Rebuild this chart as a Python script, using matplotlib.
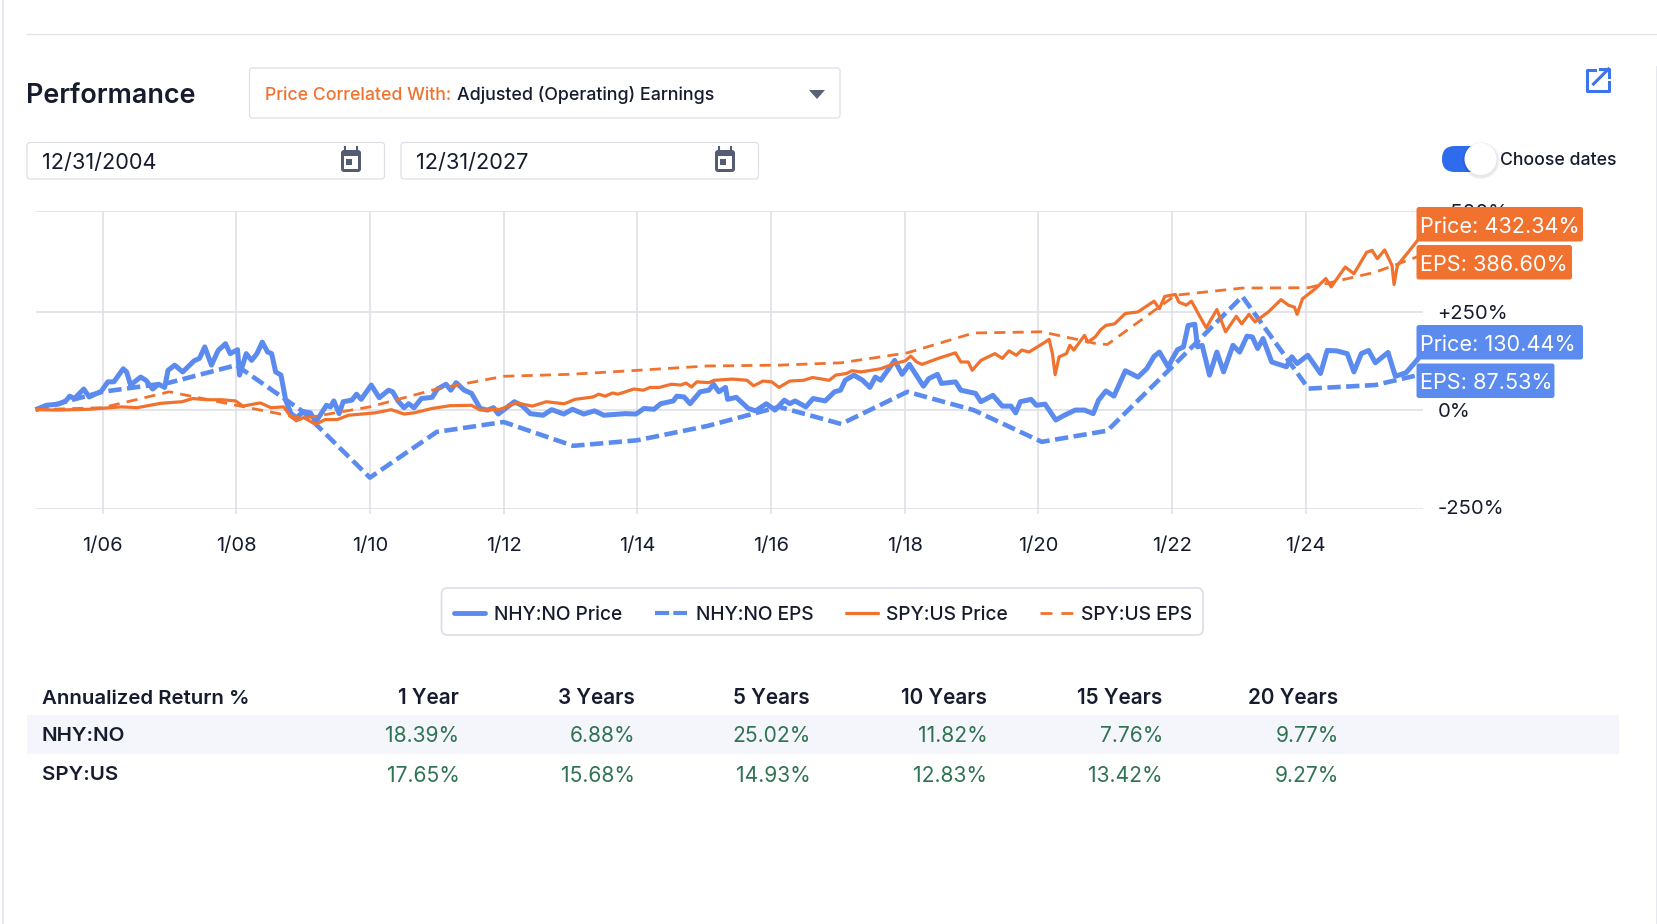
import matplotlib
matplotlib.use("Agg")
import matplotlib.pyplot as plt
from matplotlib.patches import FancyBboxPatch, Rectangle, Circle, Polygon
from matplotlib.transforms import ScaledTranslation

plt.rcParams['font.family'] = ['Inter', 'DejaVu Sans']

BLUE = '#5B8BEE'
ORANGE = '#F0722E'
GRID = '#DEE0E8'
INK = '#171B2E'
GREEN = '#2F7352'
W, H = 1658, 924

nhy_price_t = [2005.00,2005.16,2005.34,2005.45,2005.51,2005.58,2005.72,2005.80,2005.98,2006.08,2006.17,2006.31,2006.36,2006.42,2006.57,2006.65,2006.75,2006.84,2006.93,2006.98,
 2007.08,2007.20,2007.37,2007.45,2007.53,2007.63,2007.73,2007.84,2007.91,2008.02,2008.05,2008.15,2008.23,2008.31,2008.39,2008.47,2008.53,2008.59,2008.67,2008.74,
 2008.82,2008.90,2009.01,2009.11,2009.19,2009.35,2009.41,2009.46,2009.54,2009.60,2009.73,2009.80,2009.87,2010.02,2010.14,2010.28,2010.34,2010.42,2010.51,2010.58,
 2010.66,2010.77,2010.93,2011.01,2011.14,2011.21,2011.29,2011.41,2011.52,2011.65,2011.76,2011.85,2011.92,2012.16,2012.27,2012.40,2012.59,2012.72,
 2012.90,2013.03,2013.20,2013.36,2013.50,2013.82,2013.98,2014.10,2014.25,2014.35,2014.54,2014.59,2014.70,2014.79,2014.94,2015.07,2015.14,2015.22,2015.32,2015.35,
 2015.48,2015.66,2015.77,2015.93,2016.06,2016.20,2016.28,2016.36,2016.52,2016.63,2016.81,2016.95,2017.04,2017.11,2017.24,2017.37,2017.48,2017.56,2017.64,2017.85,
 2017.96,2018.07,2018.28,2018.36,2018.49,2018.55,2018.76,2018.84,2019.06,2019.14,2019.32,2019.46,2019.59,2019.66,2019.73,2019.89,2019.97,2020.10,2020.26,2020.39,
 2020.55,2020.69,2020.82,2020.90,2021.01,2021.13,2021.30,2021.49,2021.62,2021.73,2021.81,2021.94,2022.08,2022.17,2022.24,2022.34,2022.38,2022.45,2022.56,2022.67,
 2022.77,2022.91,2023.01,2023.12,2023.20,2023.28,2023.36,2023.49,2023.71,2023.79,2023.87,2024.03,2024.22,2024.32,2024.46,2024.62,2024.72,2024.83,2024.94,2025.04,
 2025.23,2025.34,2025.50,2025.69]
nhy_price_v = [0,11,14,22,34,28,52,32,46,70,70,103,95,62,82,74,52,64,56,99,
 112,95,123,129,158,112,149,166,141,151,87,141,124,141,170,145,141,95,87,24,
 -10,-20,-5,-8,-31,11,7,22,-10,20,24,39,26,62,30,49,45,22,5,15,
 5,28,31,52,64,49,68,49,41,3,-1,5,-11,20,11,-10,-14,0,
 -11,1,-11,-3,-14,-10,-11,3,1,15,22,34,32,15,45,49,64,45,56,26,
 31,3,-3,15,-1,24,15,22,7,28,22,45,49,74,87,74,56,82,74,124,
 89,114,59,78,89,66,70,49,41,20,36,9,9,-8,20,26,11,14,-26,-14,
 -1,-1,-10,24,47,34,98,82,103,134,145,108,151,158,212,215,158,162,87,145,
 95,162,145,185,183,154,179,120,108,133,116,137,91,149,148,141,95,141,149,118,
 144,84,93,130]

nhy_eps_t = [2005.0,2006.0,2007.0,2008.0,2009.0,2010.0,2011.0,2012.0,2013.04,2014.0,2015.05,2016.12,2017.05,2018.04,2019.03,2020.05,2021.03,2022.05,2023.05,2024.04,2025.04,2025.69]
nhy_eps_v = [0,45,68,112,-5,-171,-56,-31,-91,-77,-41,7,-36,45,-1,-81,-53,116,285,53,62,87.5]

spy_price_t = [2005.00,2005.32,2005.80,2006.28,2006.52,2006.87,2007.19,2007.35,2007.56,2007.78,2007.99,2008.10,2008.36,2008.52,2008.71,2008.82,2008.90,2009.01,2009.19,2009.33,
 2009.51,2009.68,2010.08,2010.32,2010.51,2010.66,2010.93,2011.20,2011.52,2011.65,2011.95,2012.19,2012.43,2012.64,2012.84,
 2012.91,2013.07,2013.34,2013.42,2013.52,2013.63,2013.71,2013.95,2014.09,2014.19,2014.33,2014.51,2014.65,2014.73,2014.81,2014.89,2015.07,2015.15,2015.42,2015.64,
 2015.74,2015.88,2016.01,2016.12,2016.28,2016.49,2016.62,2016.87,2016.97,2017.13,2017.21,2017.35,2017.64,2017.85,2018.01,2018.09,2018.18,2018.26,2018.50,2018.76,
 2018.84,2018.95,2019.01,2019.14,2019.35,2019.46,2019.56,2019.67,2019.75,2019.86,2020.10,2020.16,2020.21,2020.25,2020.31,2020.42,2020.47,2020.53,2020.69,2020.74,
 2020.85,2020.93,2021.01,2021.14,2021.30,2021.49,2021.73,2021.81,2021.89,2022.05,2022.10,2022.21,2022.29,2022.42,2022.51,2022.67,2022.80,2022.96,2023.04,2023.15,
 2023.24,2023.44,2023.63,2023.74,2023.83,2023.87,2023.95,2024.14,2024.30,2024.38,2024.59,2024.72,2024.91,2024.99,2025.07,2025.18,2025.29,2025.32,2025.37,2025.53,2025.69]
spy_price_v = [0,-1,1,7,5,16,20,28,25,25,22,9,17,5,7,-18,-28,-20,-37,-25,
 -25,-14,-8,0,-11,-8,3,10,11,-1,1,17,9,20,16,
 15,26,32,39,34,42,39,52,49,56,56,64,62,67,57,70,68,74,77,74,
 60,72,70,56,72,74,81,74,87,91,98,95,103,116,123,135,120,114,129,143,
 120,120,99,124,141,129,148,137,150,145,170,177,141,88,133,141,162,150,187,170,
 183,201,212,216,242,246,273,254,285,290,271,263,273,233,206,252,196,235,216,240,
 221,246,277,263,258,240,279,304,330,309,359,342,396,401,380,402,363,315,363,396,430]

spy_eps_t = [2005.0,2006.0,2007.0,2008.0,2009.0,2010.0,2011.0,2012.0,2013.0,2014.0,2015.05,2016.12,2017.05,2018.04,2019.03,2020.05,2020.87,2021.03,2022.05,2023.05,2024.04,2025.04,2025.69]
spy_eps_v = [0,5,45,11,-22,7,52,84,89,99,110,112,118,143,193,196,166,164,288,306,307,346,386]

x_tick_pos = [2006,2008,2010,2012,2014,2016,2018,2020,2022,2024]
x_tick_lab = ['1/06','1/08','1/10','1/12','1/14','1/16','1/18','1/20','1/22','1/24']
y_tick_pos = [-250,0,245,500]
y_tick_lab = ['-250%','0%','+250%','+500%']

callouts = [('Price: 432.34%',ORANGE,207,1583),('EPS: 386.60%',ORANGE,245,1572),
            ('Price: 130.44%',BLUE,325,1583),('EPS: 87.53%',BLUE,363.5,1554.5)]
legend_items = [('NHY:NO Price',BLUE,'-',3.5,454,485,494),('NHY:NO EPS',BLUE,(0,(3.4,1.0)),3.0,655,687,696),
                ('SPY:US Price',ORANGE,'-',2.3,846.5,878,886),('SPY:US EPS',ORANGE,(0,(4.3,3.2)),2.0,1040,1073,1081)]
table_head = ['1 Year','3 Years','5 Years','10 Years','15 Years','20 Years']
nhy_returns = ['18.39%','6.88%','25.02%','11.82%','7.76%','9.77%']
spy_returns = ['17.65%','15.68%','14.93%','12.83%','13.42%','9.27%']
col_right = [458.5,634.5,810,986.5,1162,1338]

fig = plt.figure(figsize=(W/100, H/100), dpi=100, facecolor='white')

# chart
L, R, T, B = 36, 1423, 211, 509
PX_PER_YEAR = 66.85
x0_year = 2006 - (102.5 - L) / PX_PER_YEAR
ax = fig.add_axes([L/W, 1-B/H, (R-L)/W, (B-T)/H], zorder=1)
ax.set_xlim(x0_year, x0_year+(R-L)/PX_PER_YEAR)
ax.set_ylim(-250, 500)
for s in ax.spines.values():
    s.set_visible(False)
ax.set_xticks(x_tick_pos, x_tick_lab)
ax.set_yticks(y_tick_pos, y_tick_lab)
ax.tick_params(axis='x', length=3.6, width=1.1, color=GRID, pad=16.5, labelsize=14.5, labelcolor=INK)
ax.tick_params(axis='y', length=0, labelleft=False, labelright=True, pad=10.5, labelsize=14.6, labelcolor=INK)
ax.grid(True, color=GRID, lw=1.2)
ax.set_axisbelow(True)
low = ax.get_yticklabels()[0]
low.set_transform(low.get_transform() + ScaledTranslation(0, 2/100, fig.dpi_scale_trans))
ax.plot(nhy_price_t, nhy_price_v, color=BLUE, lw=3.6, solid_joinstyle='round', solid_capstyle='butt', clip_on=False)
ax.plot(nhy_eps_t, nhy_eps_v, color=BLUE, lw=3.3, ls=(0,(2.9,1.2)), clip_on=False)
ax.plot(spy_price_t, spy_price_v, color=ORANGE, lw=2.3, solid_joinstyle='round', solid_capstyle='butt', clip_on=False)
ax.plot(spy_eps_t, spy_eps_v, color=ORANGE, lw=2.0, ls=(0,(4.0,2.6)), clip_on=False)

# page furniture in pixel coordinates
ui = fig.add_axes([0,0,1,1], zorder=2)
ui.set_xlim(0,W); ui.set_ylim(H,0); ui.axis('off'); ui.patch.set_alpha(0)

def box(x0,y0,x1,y1,fc='white',ec='#DEE0E8',r=3,lw=0.9,z=3,**kw):
    p = FancyBboxPatch((x0+r,y0+r),x1-x0-2*r,y1-y0-2*r,boxstyle=f'round,pad={r},rounding_size={r}',fc=fc,ec=ec,lw=lw,zorder=z,**kw)
    ui.add_patch(p); return p
def txt(x,y,s,size=13,color=INK,ha='left',weight='normal',z=6):
    return ui.text(x,y,s,fontsize=size,color=color,ha=ha,va='center_baseline',fontweight=weight,zorder=z)

ui.plot([27,W],[34,34],color='#E2E4EA',lw=1)
ui.add_patch(Rectangle((2.3,0),1.8,H,fc='#E6E8F0',ec='none'))
ui.add_patch(Rectangle((1656.3,66),1.5,H-66,fc='#E6E8F0',ec='none'))

txt(26,93,'Performance',size=19.4,weight='semibold')
box(249.5,68,840,118)
txt(265,93.5,'Price Correlated With:',size=12.75,color=ORANGE,weight='medium')
txt(457,93.5,'Adjusted (Operating) Earnings',size=12.85,weight='medium')
ui.add_patch(Polygon([(809,90),(825,90),(817,99)],fc='#5A6076',ec='none',zorder=4))

for x0,x1,s,ic in [(27,384.5,'12/31/2004',351),(401,758.5,'12/31/2027',725)]:
    box(x0,142.5,x1,179)
    txt(x0+15.5,161,s,size=15.7)
    box(ic-10,150,ic+10,172,fc='#545B73',ec='none',r=3,z=4)
    ui.add_patch(Rectangle((ic-7,156),14,13,fc='white',ec='none',zorder=5))
    ui.add_patch(Rectangle((ic-5,159),6,6,fc='#545B73',ec='none',zorder=6))
    ui.plot([ic-6,ic-6],[147,151],color='#545B73',lw=1.5,zorder=4)
    ui.plot([ic+6,ic+6],[147,151],color='#545B73',lw=1.5,zorder=4)

# export icon
IC = '#3B74EE'
ui.plot([1595.5,1587.5,1587.5,1609,1609],[69.5,69.5,91,91,82],color=IC,lw=2.2,solid_joinstyle='round',zorder=5)
ui.plot([1593.5,1608.5],[84,69],color=IC,lw=2.2,zorder=5)
ui.plot([1600.5,1609.5,1609.5],[68.5,68.5,77],color=IC,lw=2.2,zorder=5)

# toggle
box(1442,146,1489,172,fc='#2F6BED',ec='none',r=12.9,z=4)
for a,r in [(0.04,18.5),(0.05,17.5)]:
    ui.add_patch(Circle((1481,160.5),r,fc='black',ec='none',alpha=a,zorder=4.5))
ui.add_patch(Circle((1480.5,159),16,fc='white',ec='none',zorder=5))
txt(1500.5,158.5,'Choose dates',size=12.7,weight='medium')

# callouts
for s,c,y,x1 in callouts:
    box(1416.5,y,x1,y+34.5,fc=c,ec='none',r=2.5,z=7)
    ui.text(1420.5,y+17.8,s,fontsize=15.6,color='white',ha='left',va='center_baseline',zorder=8)

# legend
box(441.5,588,1203,635,ec='#DEE0E8',r=6,lw=1.3)
for s,c,ls,lw,x0,x1,tx in legend_items:
    ui.plot([x0,x1],[613.3,613.3],color=c,ls=ls,lw=lw,zorder=5,solid_capstyle='round' if ls=='-' else 'butt')
    txt(tx,613.5,s,size=13.8,weight='medium')

# table
ui.add_patch(Rectangle((27,715),1592,39,fc='#F5F6FB',ec='none',zorder=1))
txt(42,696.5,'Annualized Return %',size=14.7,weight='semibold')
txt(42,734,'NHY:NO',size=14.8,weight='semibold')
txt(42,773.5,'SPY:US',size=14.8,weight='semibold')
for x,h,a,b in zip(col_right,table_head,nhy_returns,spy_returns):
    txt(x,696.5,h,size=14.9,ha='right',weight='semibold')
    txt(x+1,734,a,size=15.1,ha='right',color=GREEN)
    txt(x+1,773.5,b,size=15.1,ha='right',color=GREEN)

fig.savefig('out.png', dpi=100, facecolor='white')
